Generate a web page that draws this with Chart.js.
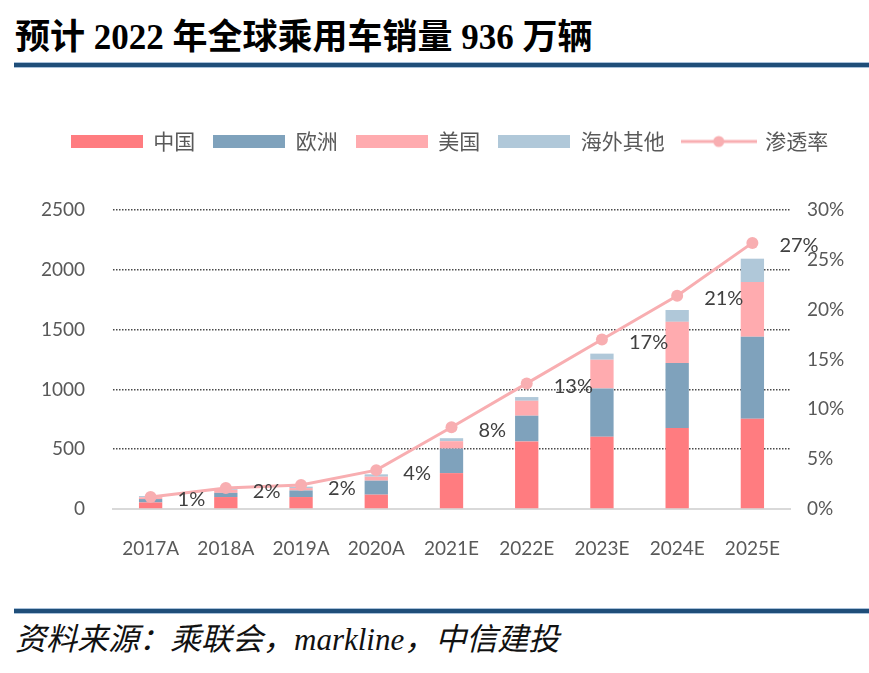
<!DOCTYPE html>
<html><head><meta charset="utf-8">
<script src="https://cdn.jsdelivr.net/npm/chart.js@4.4.0/dist/chart.umd.min.js"></script>
<style>
body{margin:0;width:869px;height:673px;background:#fff;position:relative;overflow:hidden;}
#title{position:absolute;left:15px;top:16px;font-weight:bold;font-size:35px;font-family:"Liberation Serif","Noto Sans CJK SC",serif;color:#000;white-space:nowrap;line-height:44px;}
.rule{position:absolute;left:14px;right:0;height:4px;background:#1F4E79;border-top:1px solid #a9c1da;border-bottom:1px solid #a9c1da;}
#src{position:absolute;left:15px;top:619px;font-style:italic;font-size:31px;font-family:"Liberation Serif","Noto Sans CJK SC",serif;color:#111;white-space:nowrap;line-height:42px;}
#wrap{position:absolute;left:0;top:100px;width:869px;height:470px;}
</style></head>
<body>
<div id="title">预计 2022 年全球乘用车销量 936 万辆</div>
<div class="rule" style="top:62px"></div>
<div id="wrap"><canvas id="c"></canvas></div>
<div class="rule" style="top:608px"></div>
<div id="src">资料来源：乘联会，markline，中信建投</div>
<script>
const categories = ['2017A','2018A','2019A','2020A','2021E','2022E','2023E','2024E','2025E'];
const seriesNames = ['中国','欧洲','美国','海外其他','渗透率'];
const china = [55, 100, 100, 120, 300, 565, 604, 678, 754];
const europe = [28, 35, 55, 117, 205, 215, 404, 542, 687];
const usa = [15, 25, 20, 33, 62, 125, 240, 345, 457];
const others = [10, 12, 12, 20, 25, 31, 51, 99, 195];
const penetration = [1.2, 2.1, 2.4, 3.9, 8.2, 12.6, 17.0, 21.4, 26.7];
const leftTicks = {min: 0, max: 2500, step: 500};
const rightTicks = {min: 0, max: 30, step: 5};

const colors = ['#FF7C80', '#7FA2BC', '#FFABAF', '#B0C8D9', '#F8AEB1'];
const tickFont = {family: 'Lato, "Open Sans", sans-serif', size: 19};
const tickColor = '#595959';

function boxImg(color){
  const c = document.createElement('canvas'); c.width = 72; c.height = 13;
  const g = c.getContext('2d'); g.fillStyle = color; g.fillRect(0,0,72,13); return c;
}
function lineImg(color){
  const c = document.createElement('canvas'); c.width = 76; c.height = 14;
  const g = c.getContext('2d'); g.strokeStyle = color; g.fillStyle = color; g.lineWidth = 3;
  g.beginPath(); g.moveTo(0,7); g.lineTo(76,7); g.stroke();
  g.beginPath(); g.arc(38,7,5.5,0,Math.PI*2); g.fill(); return c;
}
const legendImgs = [boxImg(colors[0]), boxImg(colors[1]), boxImg(colors[2]), boxImg(colors[3]), lineImg(colors[4])];

const legendSpacer = {
  id: 'legendSpacer',
  beforeLayout(chart){
    const lg = chart.legend;
    if (lg && !lg._patched){
      const orig = lg.fit.bind(lg);
      lg.fit = function(){ orig(); this.height = 97; };
      lg._patched = true;
    }
  }
};

const pctLabels = {
  id: 'pctLabels',
  afterDatasetsDraw(chart){
    const meta = chart.getDatasetMeta(4);
    const ctx = chart.ctx;
    ctx.save();
    ctx.font = '20px Lato, "Open Sans", sans-serif';
    ctx.fillStyle = '#404040';
    ctx.textAlign = 'left';
    ctx.textBaseline = 'middle';
    meta.data.forEach((pt, i) => {
      ctx.fillText(Math.round(penetration[i]) + '%', pt.x + 27, pt.y + 3);
    });
    ctx.restore();
  }
};

const barCommon = {type: 'bar', stack: 's', yAxisID: 'y', barPercentage: 0.31, categoryPercentage: 1, borderWidth: 0};
new Chart(document.getElementById('c'), {
  data: {
    labels: categories,
    datasets: [
      Object.assign({label: seriesNames[0], data: china, backgroundColor: colors[0]}, barCommon),
      Object.assign({label: seriesNames[1], data: europe, backgroundColor: colors[1]}, barCommon),
      Object.assign({label: seriesNames[2], data: usa, backgroundColor: colors[2]}, barCommon),
      Object.assign({label: seriesNames[3], data: others, backgroundColor: colors[3]}, barCommon),
      {type: 'line', label: seriesNames[4], data: penetration, yAxisID: 'y1', order: -1,
       borderColor: colors[4], backgroundColor: colors[4], borderWidth: 3,
       pointRadius: 6, pointHoverRadius: 6, pointBackgroundColor: colors[4], pointBorderWidth: 0, tension: 0}
    ]
  },
  options: {
    responsive: true, maintainAspectRatio: false, animation: false,
    layout: {padding: {left: 30, right: 0, top: 13, bottom: 0}},
    plugins: {
      tooltip: {enabled: false},
      legend: {
        position: 'top', align: 'center',
        labels: {
          usePointStyle: true, pointStyleWidth: 72, boxHeight: 13, padding: 18,
          font: {family: '"Noto Sans CJK SC", sans-serif', size: 21}, color: '#595959',
          sort: (a, b) => a.datasetIndex - b.datasetIndex,
          generateLabels(chart){
            const items = Chart.defaults.plugins.legend.labels.generateLabels(chart);
            items.forEach(it => { it.pointStyle = legendImgs[it.datasetIndex]; });
            return items;
          }
        }
      }
    },
    scales: {
      x: {
        stacked: true,
        grid: {display: false},
        border: {display: true, color: '#D9D9D9', width: 2},
        ticks: {font: tickFont, color: tickColor, padding: 20, maxRotation: 0},
        afterFit(s){ s.height = 61; }
      },
      y: {
        stacked: true, position: 'left', min: leftTicks.min, max: leftTicks.max,
        ticks: {stepSize: leftTicks.step, font: tickFont, color: tickColor, padding: 28,
                callback: v => String(v)},
        grid: {drawTicks: false, lineWidth: 1.5,
               color: c => c.tick && c.tick.value === 0 ? 'rgba(0,0,0,0)' : '#4a4a4a'},
        border: {display: false, dash: [1.5, 1.5]},
        afterFit(s){ s.width = 83; }
      },
      y1: {
        position: 'right', min: rightTicks.min, max: rightTicks.max,
        ticks: {stepSize: rightTicks.step, font: tickFont, color: tickColor, padding: 17,
                callback: v => v + '%'},
        grid: {display: false, drawTicks: false},
        border: {display: false},
        afterFit(s){ s.width = 79; }
      }
    }
  },
  plugins: [legendSpacer, pctLabels]
});
</script>
</body></html>
